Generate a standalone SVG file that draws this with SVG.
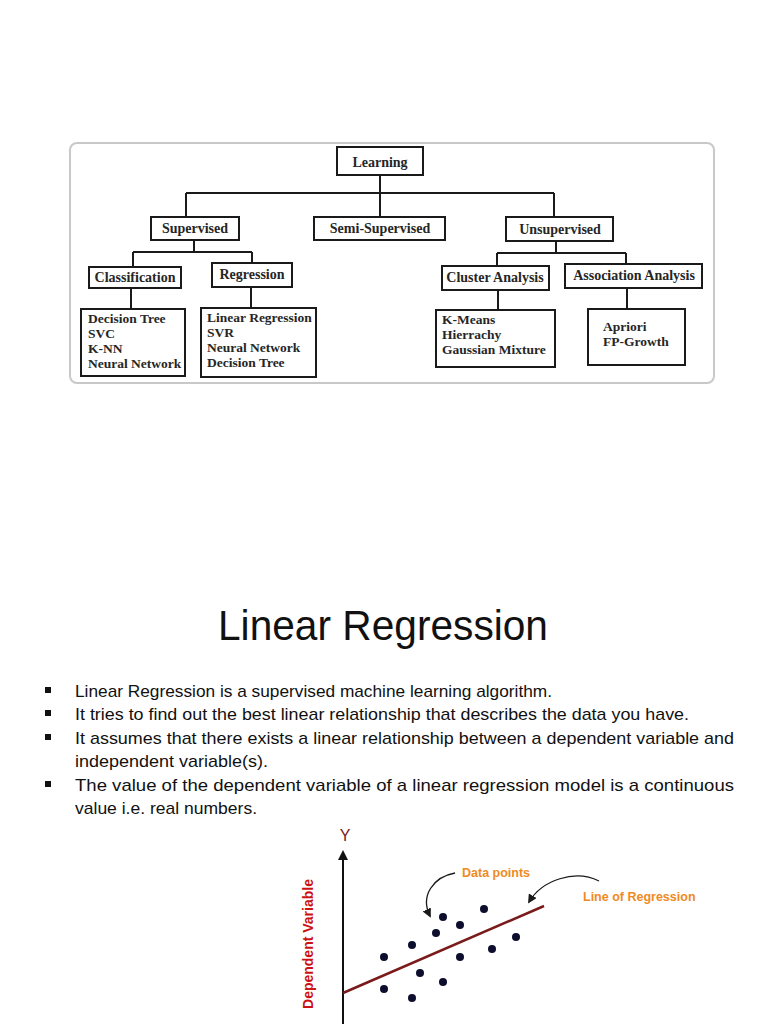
<svg xmlns="http://www.w3.org/2000/svg" width="768" height="1024" viewBox="0 0 768 1024">
<defs>
<style>
.box{fill:#fff;stroke:#1a1a1a;stroke-width:2}
.conn{fill:none;stroke:#1a1a1a;stroke-width:2}
.lbl{font-family:"Liberation Serif",serif;font-weight:bold;font-size:14px;fill:#262626}
.leaf{font-family:"Liberation Serif",serif;font-weight:bold;font-size:13.5px;fill:#262626}
.body{font-family:"Liberation Sans",sans-serif;font-size:17px;fill:#111}
.dot{fill:#0d0d2e}
.orange{font-family:"Liberation Sans",sans-serif;font-weight:bold;font-size:12.5px;fill:#f08a24}
</style>
<marker id="ah" viewBox="0 0 10 10" refX="8" refY="5" markerWidth="7" markerHeight="7" orient="auto-start-reverse">
<path d="M0,0 L10,5 L0,10 z" fill="#1a1a1a"/>
</marker>
</defs>
<rect width="768" height="1024" fill="#fff"/>
<rect x="70" y="143" width="644" height="240" rx="7" fill="#fff" stroke="#c8c8c8" stroke-width="2"/>
<g id="connectors">
<path class="conn" d="M380,175 V218 M186,193 H554 M186,193 V217 M554,193 V217"/>
<path class="conn" d="M194,240 V252 M133,252 H252 M133,252 V267 M252,252 V263"/>
<path class="conn" d="M131,288 V309 M251,287 V308"/>
<path class="conn" d="M556,241 V253 M497,253 H626 M497,253 V266 M626,253 V264"/>
<path class="conn" d="M498,290 V310 M627,288 V309"/>
</g>
<g id="learning"><rect class="box" x="337" y="147" width="86" height="28"/><text class="lbl" x="380" y="167" font-size="17.5" text-anchor="middle">Learning</text></g>
<g id="supervised"><rect class="box" x="151" y="217" width="88" height="23"/><text class="lbl" x="195" y="233" text-anchor="middle">Supervised</text></g>
<g id="semi"><rect class="box" x="314" y="217" width="131" height="23"/><text class="lbl" x="380" y="233" text-anchor="middle">Semi-Supervised</text></g>
<g id="unsupervised"><rect class="box" x="506" y="217" width="107" height="24"/><text class="lbl" x="560" y="234" text-anchor="middle">Unsupervised</text></g>
<g id="classification"><rect class="box" x="89" y="267" width="92" height="21"/><text class="lbl" x="135" y="282" text-anchor="middle">Classification</text></g>
<g id="regression"><rect class="box" x="212" y="263" width="80" height="24"/><text class="lbl" x="252" y="279" text-anchor="middle">Regression</text></g>
<g id="cluster"><rect class="box" x="442" y="266" width="107" height="24"/><text class="lbl" x="495" y="282" text-anchor="middle">Cluster Analysis</text></g>
<g id="association"><rect class="box" x="565" y="264" width="137" height="24"/><text class="lbl" x="634" y="280" text-anchor="middle">Association Analysis</text></g>
<g id="class-leaf"><rect class="box" x="81" y="309" width="104" height="67"/>
<text class="leaf" x="88" y="323">Decision Tree</text><text class="leaf" x="88" y="338">SVC</text><text class="leaf" x="88" y="353">K-NN</text><text class="leaf" x="88" y="368">Neural Network</text></g>
<g id="reg-leaf"><rect class="box" x="201" y="308" width="115" height="69"/>
<text class="leaf" x="207" y="322">Linear Regression</text><text class="leaf" x="207" y="337">SVR</text><text class="leaf" x="207" y="352">Neural Network</text><text class="leaf" x="207" y="367">Decision Tree</text></g>
<g id="cluster-leaf"><rect class="box" x="436" y="310" width="119" height="57"/>
<text class="leaf" x="442" y="324">K-Means</text><text class="leaf" x="442" y="339">Hierrachy</text><text class="leaf" x="442" y="354">Gaussian Mixture</text></g>
<g id="assoc-leaf"><rect class="box" x="588" y="309" width="97" height="56"/>
<text class="leaf" x="603" y="331">Apriori</text><text class="leaf" x="603" y="346">FP-Growth</text></g>

<text x="218" y="640" font-family="Liberation Sans,sans-serif" font-size="42" fill="#111" textLength="330" lengthAdjust="spacingAndGlyphs">Linear Regression</text>
<g id="bullets" fill="#111">
<rect x="45" y="687" width="6" height="6"/><rect x="45" y="710" width="6" height="6"/><rect x="45" y="734" width="6" height="6"/><rect x="45" y="781" width="6" height="6"/>
</g>
<text class="body" x="75" y="697" textLength="477" lengthAdjust="spacingAndGlyphs">Linear Regression is a supervised machine learning algorithm.</text>
<text class="body" x="75" y="720" textLength="614" lengthAdjust="spacingAndGlyphs">It tries to find out the best linear relationship that describes the data you have.</text>
<text class="body" x="75" y="744" textLength="659" lengthAdjust="spacingAndGlyphs">It assumes that there exists a linear relationship between a dependent variable and</text>
<text class="body" x="75" y="767" textLength="193" lengthAdjust="spacingAndGlyphs">independent variable(s).</text>
<text class="body" x="75" y="791" textLength="659" lengthAdjust="spacingAndGlyphs">The value of the dependent variable of a linear regression model is a continuous</text>
<text class="body" x="75" y="814" textLength="182" lengthAdjust="spacingAndGlyphs">value i.e. real numbers.</text>

<g id="chart">
<text x="345" y="841" font-family="Liberation Sans,sans-serif" font-size="16" fill="#7a1a1a" text-anchor="middle">Y</text>
<line x1="343" y1="1024" x2="343" y2="858" stroke="#111" stroke-width="2"/>
<path d="M343,850 L338,860 L348,860 z" fill="#111"/>
<text transform="translate(313,944) rotate(-90)" font-family="Liberation Sans,sans-serif" font-weight="bold" font-size="14" fill="#cc1111" text-anchor="middle">Dependent Variable</text>
<line x1="343" y1="993" x2="544" y2="906" stroke="#7a1a1a" stroke-width="2.5"/>
<g class="dot">
<circle cx="384" cy="957" r="4"/><circle cx="412" cy="945" r="4"/><circle cx="436" cy="933" r="4"/><circle cx="443" cy="917" r="4"/><circle cx="460" cy="925" r="4"/><circle cx="484" cy="909" r="4"/><circle cx="516" cy="937" r="4"/><circle cx="492" cy="949" r="4"/><circle cx="460" cy="957" r="4"/><circle cx="420" cy="973" r="4"/><circle cx="443" cy="982" r="4"/><circle cx="384" cy="989" r="4"/><circle cx="412" cy="998" r="4"/>
</g>
<text class="orange" x="462" y="877">Data points</text>
<text class="orange" x="583" y="901">Line of Regression</text>
<path d="M455,873 C433,877 420,896 430,916" fill="none" stroke="#1a1a1a" stroke-width="1.3" marker-end="url(#ah)"/>
<path d="M599,881 C575,869 542,880 529,902" fill="none" stroke="#1a1a1a" stroke-width="1.3" marker-end="url(#ah)"/>
</g>
</svg>
